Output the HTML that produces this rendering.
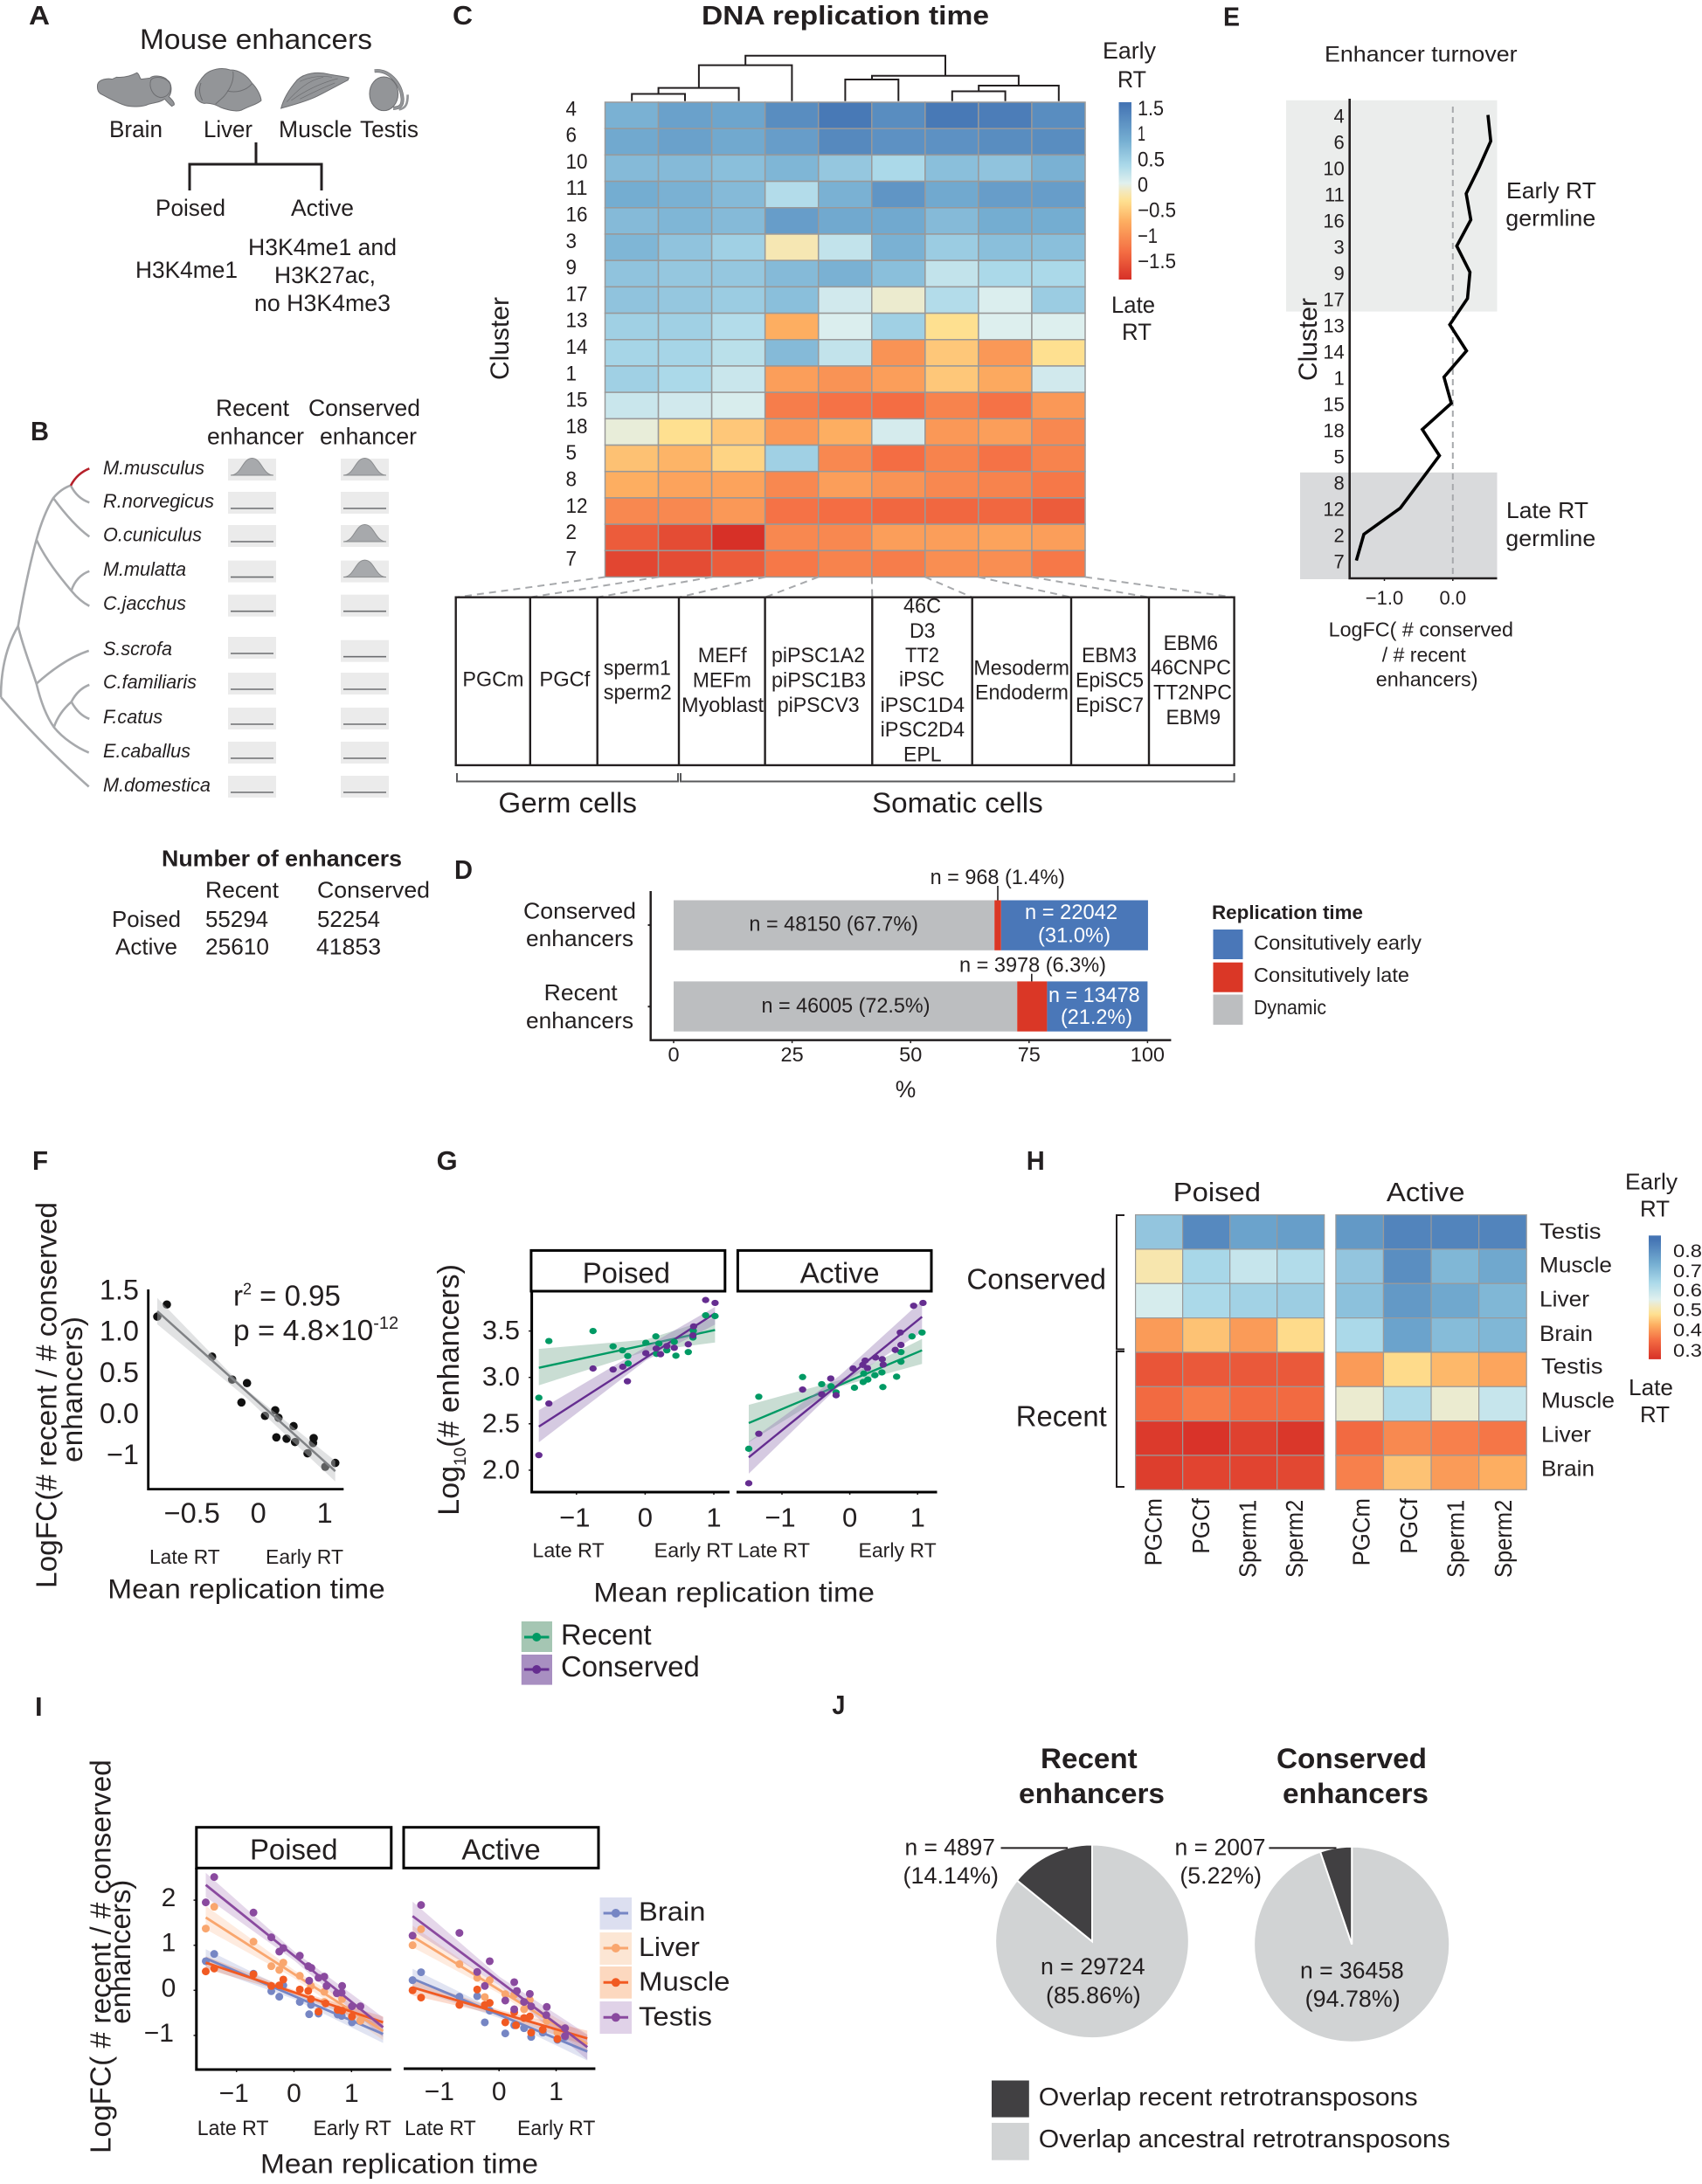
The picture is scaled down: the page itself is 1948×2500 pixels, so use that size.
<!DOCTYPE html>
<html lang="en">
<head>
<meta charset="utf-8">
<title>Enhancer turnover and DNA replication time</title>
<style>
html,body{margin:0;padding:0;background:#fff;width:1948px;height:2500px;overflow:hidden}
svg{display:block;font-family:"Liberation Sans",Arial,sans-serif;fill:#231f20}
.b{font-weight:bold}
.i{font-style:italic}
</style>
</head>
<body>
<svg id="figure" xmlns="http://www.w3.org/2000/svg" width="1948" height="2500" viewBox="0 0 1948 2500">
<defs>
<linearGradient id="cbar-c" x1="0" y1="0" x2="0" y2="1"></linearGradient>
<linearGradient id="cbar-h" x1="0" y1="0" x2="0" y2="1"></linearGradient>
</defs>
<rect width="1948" height="2500" fill="#fff"/>

<!-- PANEL A -->
<g>
<text class="b" x="33" y="28" font-size="31" textLength="24">A</text>
<text x="160" y="56" font-size="32" textLength="266">Mouse enhancers</text>
<g transform="scale(.3333)" fill="#939598" stroke="#6d6e71" stroke-width="3">
<path d="M335 290C340 272 370 268 385 272L400 265C430 268 455 258 470 250C480 255 478 268 485 272L515 268C525 258 560 258 575 275C590 285 592 315 580 332C590 342 600 352 598 360L590 365C578 355 570 345 565 340C550 352 530 352 510 358C490 368 450 368 430 362C405 355 380 340 345 322C335 315 333 305 335 290Z"/>
<path fill="none" d="M518 275C510 300 525 330 550 335C575 335 590 315 585 290C575 265 530 258 518 275Z"/>
<path d="M670 315C672 295 690 270 705 255C725 238 760 230 790 240C825 240 850 262 865 285C880 300 895 325 897 345C885 358 860 362 830 378C810 385 785 378 760 370C745 362 725 352 700 355C680 350 668 335 670 315Z"/>
<path fill="none" d="M800 245C805 275 790 305 770 330C755 345 745 352 740 358M780 312C810 320 845 312 865 288M690 285C682 305 685 325 695 345"/>
<path d="M965 372C972 345 990 310 1020 275C1045 250 1090 245 1130 255C1155 260 1180 262 1198 267L1195 275C1165 290 1130 310 1090 330C1050 350 1000 362 965 372Z"/>
<path fill="none" stroke-width="2" d="M985 350C1020 310 1060 275 1110 265M1000 345C1050 310 1100 285 1160 270M1030 340C1070 320 1110 300 1150 285M1030 280C1060 265 1100 258 1140 265"/>
<ellipse cx="1318" cy="322" rx="49" ry="58"/>
<path fill="none" stroke="#6d6e71" stroke-width="12" d="M1286 244C1335 238 1378 285 1382 340C1382 362 1375 370 1350 372"/>
<path fill="none" stroke="#939598" stroke-width="8" d="M1286 244C1335 238 1378 285 1382 340C1382 362 1375 370 1350 372M1400 325C1400 355 1395 372 1370 376"/>
</g>
<text x="125" y="157" font-size="27" textLength="61">Brain</text>
<text x="233" y="157" font-size="27" textLength="56">Liver</text>
<text x="319" y="157" font-size="27" textLength="84">Muscle</text>
<text x="412" y="157" font-size="27" textLength="67">Testis</text>
<path d="M293 163V188M217 218V188H368V218" fill="none" stroke="#231f20" stroke-width="3"/>
<text x="178" y="247" font-size="27" textLength="80">Poised</text>
<text x="333" y="247" font-size="27" textLength="72">Active</text>
<text x="155" y="318" font-size="27" textLength="117">H3K4me1</text>
<text x="284" y="292" font-size="27" textLength="170">H3K4me1 and</text>
<text x="314" y="324" font-size="27" textLength="116">H3K27ac,</text>
<text x="291" y="356" font-size="27" textLength="156">no H3K4me3</text>
</g>

<!-- PANEL B -->
<g>
<text class="b" x="35" y="504" font-size="31" textLength="21">B</text>
<text x="247" y="476" font-size="26.5" textLength="84">Recent</text>
<text x="353" y="476" font-size="26.5" textLength="128">Conserved</text>
<text x="237" y="508.5" font-size="26.5" textLength="111">enhancer</text>
<text x="366" y="508.5" font-size="26.5" textLength="111">enhancer</text>
<g fill="none" stroke="#a7a9ac" stroke-width="2.6">
<path d="M1 798C1 760 10 735 20.7 716.7C26 685 33 650 41.7 617.8C48 595 55 580 61 570.1C67 563 74 558 81 555.8M81 555.8C86 566 93 572 102.3 575.3M61 570.1C72 585 88 604 102.3 614.3M41.7 617.8C52 640 68 660 81.7 676.3C88 684 95 690 102.3 693.7M81.7 676.3C85 665 93 657 102.3 653.8M20.7 716.7C26 740 35 762 41.7 782.6C47 805 53 820 61.7 832.4C72 845 88 856 101.7 861.5M41.7 782.6C58 768 80 752 101.7 744.9M61.7 832.4C66 820 74 810 81.7 803.4C87 793 94 787 102.3 783.9M81.7 803.4C87 813 94 820 102.3 822.9M1 798C30 832 65 868 101.7 900.5"/>
<path d="M81 555.8C86 546 93 540 102.3 536.3" stroke="#b5202a"/>
</g>
<text class="i" x="118" y="543" font-size="22" textLength="116">M.musculus</text>
<text class="i" x="118" y="581" font-size="22" textLength="127">R.norvegicus</text>
<text class="i" x="118" y="619.5" font-size="22" textLength="113">O.cuniculus</text>
<text class="i" x="118" y="659" font-size="22" textLength="95">M.mulatta</text>
<text class="i" x="118" y="698" font-size="22" textLength="95">C.jacchus</text>
<text class="i" x="118" y="750" font-size="22" textLength="79">S.scrofa</text>
<text class="i" x="118" y="788" font-size="22" textLength="107">C.familiaris</text>
<text class="i" x="118" y="828" font-size="22" textLength="68">F.catus</text>
<text class="i" x="118" y="867" font-size="22" textLength="100">E.caballus</text>
<text class="i" x="118" y="906" font-size="22" textLength="123">M.domestica</text>
<g id="b-tracks"></g>
<text class="b" x="185" y="991.6" font-size="26" textLength="275">Number of enhancers</text>
<text x="235" y="1027.6" font-size="26" textLength="84">Recent</text>
<text x="363" y="1027.6" font-size="26" textLength="129">Conserved</text>
<text x="128" y="1061" font-size="26" textLength="79">Poised</text>
<text x="235" y="1061" font-size="26" textLength="72">55294</text>
<text x="363" y="1061" font-size="26" textLength="72">52254</text>
<text x="132" y="1092.6" font-size="26" textLength="71">Active</text>
<text x="235" y="1092.6" font-size="26" textLength="73">25610</text>
<text x="362" y="1092.6" font-size="26" textLength="74">41853</text>
</g>

<!-- PANEL C -->
<g>
<text class="b" x="518" y="28" font-size="31" textLength="23">C</text>
<text class="b" x="803" y="28" font-size="31" textLength="329">DNA replication time</text>
<path fill="none" stroke="#231f20" stroke-width="2" d="M723.2 115.8V107.5H784V115.8M753.6 107.5V100.6H845.6V115.8M799.9 100.6V74.6H906.4V115.8M853.2 74.6V63.7H1082V86.7M967.4 115.8V91H1028.3V115.8M998 91V86.7H1165.9V98M1089.8 115.8V104.5H1150.6V115.8M1120.2 104.5V98H1211.8V115.8"/>
<g id="c-heatmap"></g>
<text transform="translate(582,435) rotate(-90)" font-size="30" textLength="95">Cluster</text>
<text x="1262" y="67" font-size="27" textLength="61">Early</text>
<text x="1279" y="100" font-size="27" textLength="33">RT</text>
<rect x="1280.5" y="117" width="14.5" height="203" fill="url(#cbar-c)"/>
<g id="c-legend-ticks"></g>
<text x="1272" y="358" font-size="27" textLength="50">Late</text>
<text x="1284" y="389" font-size="27" textLength="34">RT</text>
<g fill="none" stroke="#a7a9ac" stroke-width="2" stroke-dasharray="8 6">
<path d="M692.5 660.5L521.7 683.7M753.6 660.5L606.8 683.7M814.6 660.5L683.7 683.7M875.7 660.5L777 683.7M936.7 660.5L875.6 683.7M997.8 660.5L998.3 683.7M1058.8 660.5L1112.7 683.7M1119.9 660.5L1226 683.7M1180.9 660.5L1315 683.7M1242 660.5L1412.6 683.7"/>
</g>
<path fill="none" stroke="#231f20" stroke-width="2.4" d="M521.7 683.7H1412.6V875.9H521.7ZM606.8 683.7V875.9M683.7 683.7V875.9M777 683.7V875.9M875.6 683.7V875.9M998.3 683.7V875.9M1112.7 683.7V875.9M1226 683.7V875.9M1315 683.7V875.9"/>
<g font-size="24.5">
<text x="529.4" y="785.7" textLength="70">PGCm</text>
<text x="617.4" y="785.7" textLength="58">PGCf</text>
<text x="690.8" y="772.7" textLength="77">sperm1</text>
<text x="690.8" y="800.4" textLength="78">sperm2</text>
<text x="798.7" y="758" textLength="56">MEFf</text>
<text x="792.9" y="786.5" textLength="67">MEFm</text>
<text x="780" y="815" textLength="94">Myoblast</text>
<text x="883" y="758" textLength="107">piPSC1A2</text>
<text x="883" y="786.5" textLength="108">piPSC1B3</text>
<text x="889.7" y="815" textLength="94">piPSCV3</text>
<text x="1034" y="701.5" textLength="43">46C</text>
<text x="1041" y="730" textLength="29.5">D3</text>
<text x="1036" y="758" textLength="39">TT2</text>
<text x="1029" y="785.7" textLength="52">iPSC</text>
<text x="1007.6" y="815" textLength="96.4">iPSC1D4</text>
<text x="1007.6" y="843" textLength="96.4">iPSC2D4</text>
<text x="1034" y="871.5" textLength="43.5">EPL</text>
<text x="1114.4" y="772.7" textLength="109.6">Mesoderm</text>
<text x="1116" y="800.4" textLength="107">Endoderm</text>
<text x="1238" y="758" textLength="63">EBM3</text>
<text x="1231" y="786.5" textLength="78">EpiSC5</text>
<text x="1231" y="815" textLength="78">EpiSC7</text>
<text x="1331.6" y="743.8" textLength="62.4">EBM6</text>
<text x="1317" y="772" textLength="92">46CNPC</text>
<text x="1320" y="800.4" textLength="90">TT2NPC</text>
<text x="1334.5" y="829" textLength="62.5">EBM9</text>
</g>
<path fill="none" stroke="#58595b" stroke-width="2" d="M523 885V894.5H776V885"/>
<path fill="none" stroke="#58595b" stroke-width="2" d="M779 885V894.5H1412.6V885"/>
<text x="570.4" y="930" font-size="32" textLength="158.6">Germ cells</text>
<text x="998" y="930" font-size="32" textLength="195.7">Somatic cells</text>
</g>

<!-- PANEL D -->
<g>
<text class="b" x="520" y="1006" font-size="31" textLength="21">D</text>
<g id="d-bars"></g>
<path fill="none" stroke="#231f20" stroke-width="2.5" d="M744.7 1020V1190.6H1340.4"/>
<path fill="none" stroke="#231f20" stroke-width="2" d="M741.5 1058.9H744.7M741.5 1152.2H744.7"/>
<text x="599" y="1051.5" font-size="26" textLength="129">Conserved</text>
<text x="602" y="1083" font-size="26" textLength="123">enhancers</text>
<text x="622.7" y="1145" font-size="26" textLength="84">Recent</text>
<text x="602" y="1177" font-size="26" textLength="123">enhancers</text>
<g font-size="24">
<text x="1064.6" y="1012" textLength="154.4">n = 968 (1.4%)</text>
<path stroke="#231f20" stroke-width="1.6" d="M1142 1014V1030.5"/>
<text x="857.4" y="1065.3" textLength="193.6">n = 48150 (67.7%)</text>
<text x="1173" y="1052" textLength="106" fill="#fff">n = 22042</text>
<text x="1188" y="1078.4" textLength="83" fill="#fff">(31.0%)</text>
<text x="1098" y="1112.7" textLength="168">n = 3978 (6.3%)</text>
<path stroke="#231f20" stroke-width="1.6" d="M1180.8 1114.7V1123.4"/>
<text x="871.5" y="1159" textLength="193">n = 46005 (72.5%)</text>
<text x="1200" y="1147" textLength="104.6" fill="#fff">n = 13478</text>
<text x="1214" y="1172" textLength="82" fill="#fff">(21.2%)</text>
</g>
<text x="1024.7" y="1256" font-size="27" textLength="23.5">%</text>
<text class="b" x="1387" y="1052" font-size="22" textLength="173">Replication time</text>
<rect x="1388.5" y="1064" width="34" height="34" fill="#4a77b8"/>
<rect x="1388.5" y="1101.7" width="34" height="34" fill="#da3726"/>
<rect x="1388.5" y="1138.5" width="34" height="34.5" fill="#bcbec0"/>
<text x="1435" y="1087" font-size="23" textLength="192">Consitutively early</text>
<text x="1435" y="1124" font-size="23" textLength="178">Consitutively late</text>
<text x="1435" y="1161" font-size="23" textLength="83">Dynamic</text>
</g>

<!-- PANEL E -->
<g>
<text class="b" x="1400" y="29.6" font-size="31" textLength="19">E</text>
<text x="1516" y="70.4" font-size="25" textLength="220.6">Enhancer turnover</text>
<rect x="1472" y="114.8" width="241.5" height="241.8" fill="#ebedec"/>
<rect x="1488" y="540.8" width="225.5" height="122.2" fill="#d9dadc"/>
<g id="e-chart"></g>
<text transform="translate(1507,436) rotate(-90)" font-size="30" textLength="95">Cluster</text>
<text x="1724" y="227" font-size="26" textLength="103">Early RT</text>
<text x="1723.3" y="258.7" font-size="26" textLength="103">germline</text>
<text x="1724" y="593" font-size="26" textLength="94">Late RT</text>
<text x="1723.3" y="625" font-size="26" textLength="103">germline</text>
<text x="1520.6" y="728.6" font-size="23" textLength="211.4">LogFC( # conserved</text>
<text x="1581.8" y="757.6" font-size="23" textLength="96">/ # recent</text>
<text x="1574.8" y="785.7" font-size="23" textLength="116.7">enhancers)</text>
</g>

<!-- PANEL F -->
<g>
<text class="b" x="37" y="1339" font-size="31" textLength="18">F</text>
<g id="f-chart"></g>
<text x="267" y="1494.6" font-size="33">r<tspan font-size="18" dy="-13">2</tspan><tspan dy="13"> = 0.95</tspan></text>
<text x="267" y="1534" font-size="33.5">p = 4.8×10<tspan font-size="20" dy="-13">-12</tspan></text>
<text x="171" y="1790" font-size="23" textLength="80.7">Late RT</text>
<text x="304" y="1790" font-size="23" textLength="89">Early RT</text>
<text x="123.3" y="1829.6" font-size="31.5" textLength="317.4">Mean replication time</text>
<text transform="translate(64.3,1818) rotate(-90)" font-size="33" textLength="442">LogFC(# recent / # conserved</text>
<text transform="translate(94,1674) rotate(-90)" font-size="33" textLength="167">enhancers)</text>
</g>

<!-- PANEL G -->
<g>
<text class="b" x="499.6" y="1338.8" font-size="31" textLength="24">G</text>
<rect x="607.9" y="1431.4" width="221.9" height="46.6" fill="#fff" stroke="#000" stroke-width="3"/>
<rect x="844.4" y="1431.4" width="221.6" height="46.6" fill="#fff" stroke="#000" stroke-width="3"/>
<text x="666.8" y="1468.6" font-size="33" textLength="100.2">Poised</text>
<text x="915.6" y="1468.6" font-size="33" textLength="91">Active</text>
<g id="g-chart"></g>
<path fill="none" stroke="#000" stroke-width="3" d="M608.6 1478V1708H835M843 1708H1072.5"/>
<text x="609.4" y="1782.4" font-size="23" textLength="82.3">Late RT</text>
<text x="748.7" y="1782.4" font-size="23" textLength="90.3">Early RT</text>
<text x="844.4" y="1782.4" font-size="23" textLength="82.6">Late RT</text>
<text x="982.5" y="1782.4" font-size="23" textLength="89.2">Early RT</text>
<text x="679.4" y="1833.5" font-size="31.5" textLength="321.6">Mean replication time</text>
<text transform="translate(525,1734.7) rotate(-90)" font-size="34">Log<tspan font-size="19" dy="8">10</tspan><tspan dy="-8">(# enhancers)</tspan></text>
<rect x="596.8" y="1856" width="35.2" height="35" fill="#a5c6b3"/>
<rect x="596.8" y="1894" width="35.2" height="34.6" fill="#a88fc1"/>
<path d="M600 1874H628.5" stroke="#009a64" stroke-width="3"/>
<circle cx="614.2" cy="1874" r="5" fill="#009a64"/>
<path d="M600 1911H628.5" stroke="#652d90" stroke-width="3"/>
<circle cx="614.2" cy="1911" r="5" fill="#652d90"/>
<text x="642" y="1882.4" font-size="33" textLength="103.6">Recent</text>
<text x="642" y="1919" font-size="33" textLength="158.8">Conserved</text>
</g>

<!-- PANEL H -->
<g>
<text class="b" x="1174.8" y="1339" font-size="31" textLength="21">H</text>
<text x="1342.8" y="1375" font-size="31" textLength="100.2">Poised</text>
<text x="1586.9" y="1375" font-size="31" textLength="89.7">Active</text>
<g id="h-heatmaps"></g>
<text x="1860" y="1361.3" font-size="26" textLength="60">Early</text>
<text x="1877" y="1392.3" font-size="26" textLength="34">RT</text>
<rect x="1887" y="1414.3" width="14" height="141.6" fill="url(#cbar-h)"/>
<g font-size="21.5">
<text x="1915" y="1438.8" textLength="33">0.8</text>
<text x="1915" y="1461.8" textLength="33">0.7</text>
<text x="1915" y="1484" textLength="33">0.6</text>
<text x="1915" y="1506.6" textLength="33">0.5</text>
<text x="1915" y="1529.7" textLength="33">0.4</text>
<text x="1915" y="1553" textLength="33">0.3</text>
</g>
<text x="1864" y="1596.8" font-size="26" textLength="51">Late</text>
<text x="1877" y="1628" font-size="26" textLength="34">RT</text>
<text x="1106.4" y="1475.6" font-size="33" textLength="159.6">Conserved</text>
<text x="1162.8" y="1632.3" font-size="33" textLength="103.9">Recent</text>
<path fill="none" stroke="#231f20" stroke-width="2" d="M1287 1391H1278V1544.5H1287"/>
<path fill="none" stroke="#231f20" stroke-width="2" d="M1287 1547H1278V1702H1287"/>
</g>

<!-- PANEL I -->
<g>
<text class="b" x="40" y="1964" font-size="31">I</text>
<rect x="224.8" y="2091.7" width="223" height="46.6" fill="#fff" stroke="#000" stroke-width="3"/>
<rect x="462" y="2091.7" width="223" height="46.6" fill="#fff" stroke="#000" stroke-width="3"/>
<text x="286" y="2128.3" font-size="33" textLength="100.5">Poised</text>
<text x="528.4" y="2128.3" font-size="33" textLength="90.3">Active</text>
<g id="i-chart"></g>
<path fill="none" stroke="#000" stroke-width="3" d="M224.8 2138V2369H447.8M462 2368H681.4"/>
<text x="225.8" y="2444" font-size="24" textLength="81.6">Late RT</text>
<text x="358.5" y="2444" font-size="24" textLength="89.3">Early RT</text>
<text x="463" y="2444" font-size="24" textLength="81.7">Late RT</text>
<text x="592" y="2444" font-size="24" textLength="89.4">Early RT</text>
<text x="298" y="2487.7" font-size="31.5" textLength="318">Mean replication time</text>
<text transform="translate(126.3,2465) rotate(-90)" font-size="33" textLength="450.7">LogFC( # recent / # conserved</text>
<text transform="translate(149,2316.7) rotate(-90)" font-size="33" textLength="165">enhancers)</text>
<rect x="686.5" y="2172" width="36.5" height="36.7" fill="#dcdff0"/>
<rect x="686.5" y="2212" width="36.5" height="37" fill="#fce6d4"/>
<rect x="686.5" y="2251" width="36.5" height="36.7" fill="#fcd8bf"/>
<rect x="686.5" y="2291" width="36.5" height="37" fill="#e0d2e8"/>
<path d="M690.6 2190H719" stroke="#7686c4" stroke-width="3"/>
<circle cx="704.8" cy="2190" r="5" fill="#7686c4"/>
<path d="M690.6 2230H719" stroke="#f9a66e" stroke-width="3"/>
<circle cx="704.8" cy="2230" r="5" fill="#f9a66e"/>
<path d="M690.6 2269.3H719" stroke="#f15a22" stroke-width="3"/>
<circle cx="704.8" cy="2269.3" r="5" fill="#f15a22"/>
<path d="M690.6 2309.3H719" stroke="#8a4a9f" stroke-width="3"/>
<circle cx="704.8" cy="2309.3" r="5" fill="#8a4a9f"/>
<text x="731" y="2198.3" font-size="31" textLength="76.4">Brain</text>
<text x="731" y="2239" font-size="31" textLength="69.8">Liver</text>
<text x="731" y="2278.3" font-size="31" textLength="104.5">Muscle</text>
<text x="731" y="2318.3" font-size="31" textLength="84">Testis</text>
</g>

<!-- PANEL J -->
<g>
<text class="b" x="952.4" y="1962" font-size="31" textLength="15">J</text>
<text class="b" x="1191" y="2023.8" font-size="32" textLength="110.7">Recent</text>
<text class="b" x="1166" y="2063.8" font-size="32" textLength="167">enhancers</text>
<text class="b" x="1461" y="2023.8" font-size="32" textLength="172">Conserved</text>
<text class="b" x="1468" y="2063.8" font-size="32" textLength="167">enhancers</text>
<g id="j-pies"></g>
<path d="M1145.5 2115.4H1222" stroke="#231f20" stroke-width="2"/>
<path d="M1452.4 2115.4H1529.5" stroke="#231f20" stroke-width="2"/>
<g font-size="26.5">
<text x="1035.5" y="2123.4" textLength="103.5">n = 4897</text>
<text x="1033.5" y="2156" textLength="109.5">(14.14%)</text>
<text x="1191" y="2260" textLength="119.6">n = 29724</text>
<text x="1197" y="2292.8" textLength="108.7">(85.86%)</text>
<text x="1344.5" y="2123.4" textLength="104">n = 2007</text>
<text x="1350.4" y="2156" textLength="93.6">(5.22%)</text>
<text x="1488" y="2264.4" textLength="118.7">n = 36458</text>
<text x="1493.7" y="2297" textLength="109">(94.78%)</text>
</g>
<rect x="1135" y="2381.5" width="42.8" height="42.1" fill="#414042"/>
<rect x="1135" y="2430" width="42.8" height="42.7" fill="#d1d3d4"/>
<text x="1188.8" y="2409.8" font-size="29" textLength="433.8">Overlap recent retrotransposons</text>
<text x="1188.8" y="2458" font-size="29" textLength="471.1">Overlap ancestral retrotransposons</text>
</g>
</svg>

<script>
/* ---------- PANEL B data ---------- */
const bSpecies = ['M.musculus','R.norvegicus','O.cuniculus','M.mulatta','C.jacchus','S.scrofa','C.familiaris','F.catus','E.caballus','M.domestica'];
const bRecentPeak = [1,0,0,0,0,0,0,0,0,0];
const bConservedPeak = [1,0,1,1,0,0,0,0,0,0];

/* ---------- PANEL C data ---------- */
const cClusters = ['4','6','10','11','16','3','9','17','13','14','1','15','18','5','8','12','2','7'];
const cColumns = ['c1','c2','c3','c4','c5','c6','c7','c8','c9'];
const cValues = [
[0.85,1.05,1.0,1.3,1.55,1.3,1.55,1.5,1.3],
[0.95,1.05,0.95,1.1,1.35,1.25,1.25,1.3,1.3],
[0.75,0.75,0.7,0.8,0.6,0.4,0.7,0.65,0.85],
[0.9,0.85,0.75,0.35,0.85,1.2,0.95,1.1,1.1],
[0.75,0.8,0.75,1.1,0.95,0.95,0.75,0.9,0.9],
[0.8,0.65,0.5,-0.15,0.25,0.85,0.55,0.7,0.7],
[0.65,0.6,0.6,0.75,0.85,0.7,0.25,0.4,0.4],
[0.65,0.6,0.55,0.7,0.15,-0.05,0.35,0.08,0.55],
[0.5,0.5,0.35,-0.7,0.08,0.5,-0.3,0.07,0.07],
[0.45,0.45,0.3,0.75,0.25,-0.95,-0.5,-0.9,-0.3],
[0.5,0.4,0.2,-0.85,-0.95,-0.85,-0.5,-0.75,0.15],
[0.2,0.15,0.1,-1.15,-1.25,-1.3,-1.1,-1.25,-0.9],
[-0.02,-0.3,-0.5,-0.9,-0.7,0.12,-0.9,-0.85,-1.05],
[-0.55,-0.65,-0.4,0.5,-1.05,-1.3,-1.1,-1.25,-1.1],
[-0.7,-0.8,-0.8,-1.05,-0.85,-0.95,-1.05,-1.1,-1.2],
[-1.05,-1.05,-0.9,-1.25,-1.3,-1.35,-1.35,-1.35,-1.45],
[-1.45,-1.6,-1.85,-1.05,-1.05,-0.85,-0.85,-0.8,-0.85],
[-1.65,-1.6,-1.45,-1.2,-1.1,-1.15,-1.0,-1.0,-1.2]
];
const cLegendValues = [1.5,1,0.5,0,-0.5,-1,-1.5];
const cLegendLabels = ['1.5','1','0.5','0','−0.5','−1','−1.5'];

/* ---------- PANEL D data ---------- */
const dCategories = ['Conserved enhancers','Recent enhancers'];
const dDynamic = [67.7,72.5];
const dLate = [1.4,6.3];
const dEarly = [31.0,21.2];
const dTicks = [0,25,50,75,100];

/* ---------- PANEL E data ---------- */
const eClusters = ['4','6','10','11','16','3','9','17','13','14','1','15','18','5','8','12','2','7'];
const eValues = [0.513,0.554,0.384,0.196,0.263,0.058,0.25,0.214,-0.045,0.2,-0.129,-0.022,-0.446,-0.196,-0.482,-0.768,-1.3,-1.41];
const eTicks = [-1,0];
const eTickLabels = ['−1.0','0.0'];

/* ---------- PANEL F data ---------- */
const fX = [-1.378,-1.522,-0.697,-0.395,-0.171,-0.255,0.1,0.254,0.303,0.53,0.271,0.425,0.553,0.833,0.824,0.741,1.008,1.158];
const fY = [1.32,1.173,0.686,0.408,0.365,0.13,-0.033,0.035,-0.056,-0.158,-0.294,-0.31,-0.351,-0.303,-0.363,-0.488,-0.651,-0.605];
const fBandX = [-1.522,-0.2,1.158];
const fBandUpper = [1.4,0.3,-0.58];
const fBandLower = [1.08,0.2,-0.83];
const fLineX = [-1.522,1.158];
const fLineY = [1.238,-0.705];
const fXTicks = [-1,0,1];
const fXLabels = ['−0.5','0','1'];
const fYTicks = [1.5,1,0.5,0,-0.5];
const fYLabels = ['1.5','1.0','0.5','0.0','−1'];

/* ---------- PANEL G data ---------- */
const gXTicks = [-1,0,1];
const gXLabels = ['−1','0','1'];
const gYTicks = [3.5,3,2.5,2];
const gYLabels = ['3.5','3.0','2.5','2.0'];
const gPoisedRecentX = [-1.548,-1.402,-0.759,-0.467,-0.331,-0.253,-0.248,0.01,0.156,0.2,0.166,0.316,0.424,0.448,0.628,0.701,0.696,0.881,1.018];
const gPoisedRecentY = [2.781,3.392,3.5,3.334,3.292,3.231,3.15,3.373,3.442,3.365,3.254,3.292,3.384,3.234,3.273,3.503,3.43,3.669,3.661];
const gPoisedConservedX = [-1.548,-1.402,-0.759,-0.467,-0.326,-0.258,0.01,0.161,0.224,0.316,0.424,0.628,0.706,0.881,1.018,0.696];
const gPoisedConservedY = [2.162,2.719,3.096,3.085,3.115,2.958,3.261,3.311,3.25,3.338,3.319,3.357,3.55,3.834,3.803,3.453];
const gPoisedRecentLine = [3.104,3.511];
const gPoisedConservedLine = [2.47,3.692];
const gPoisedLineX = [-1.548,1.018];
const gPoisedBandX = [-1.548,0.01,1.018];
const gPoisedRecentUpper = [3.307,3.407,3.646];
const gPoisedRecentLower = [2.915,3.28,3.377];
const gPoisedConservedUpper = [2.646,3.33,3.76];
const gPoisedConservedLower = [2.3,3.184,3.57];
const gActiveRecentX = [-1.49,-1.342,-0.696,-0.414,-0.276,-0.202,0.069,0.197,0.207,0.266,0.37,0.474,0.488,0.691,0.755,0.755,0.918,1.066];
const gActiveRecentY = [2.231,2.792,3.004,2.927,2.904,2.839,2.889,2.95,3.042,2.977,3.023,3.054,2.896,3.008,3.273,3.169,3.442,3.484];
const gActiveConservedX = [-1.49,-1.342,-0.696,-0.414,-0.281,-0.202,0.049,0.192,0.227,0.261,0.38,0.479,0.493,0.671,0.755,0.745,0.942,1.08];
const gActiveConservedY = [1.859,2.393,2.869,2.819,2.988,2.808,3.096,3.135,3.181,3.1,3.215,3.196,3.138,3.296,3.35,3.484,3.772,3.803];
const gActiveRecentLine = [2.508,3.292];
const gActiveConservedLine = [2.139,3.653];
const gActiveLineX = [-1.49,1.066];
const gActiveBandX = [-1.49,-0.15,1.066];
const gActiveRecentUpper = [2.704,2.97,3.415];
const gActiveRecentLower = [2.3,2.9,3.146];
const gActiveConservedUpper = [2.308,3.02,3.83];
const gActiveConservedLower = [1.962,2.915,3.49];

/* ---------- PANEL H data ---------- */
const hTissues = ['Testis','Muscle','Liver','Brain','Testis','Muscle','Liver','Brain'];
const hSamples = ['PGCm','PGCf','Sperm1','Sperm2'];
const hPoised = [
[0.69,0.81,0.76,0.77],[0.525,0.655,0.61,0.64],[0.585,0.65,0.665,0.675],[0.43,0.47,0.43,0.495],
[0.345,0.35,0.35,0.35],[0.375,0.395,0.375,0.375],[0.305,0.295,0.315,0.3],[0.31,0.32,0.32,0.325]
];
const hActive = [
[0.78,0.82,0.82,0.82],[0.69,0.8,0.72,0.75],[0.7,0.78,0.75,0.72],[0.65,0.76,0.71,0.72],
[0.43,0.495,0.46,0.44],[0.55,0.645,0.55,0.61],[0.375,0.41,0.4,0.39],[0.4,0.47,0.43,0.45]
];

/* ---------- PANEL I data ---------- */
const iXTicks = [-1,0,1];
const iXLabels = ['−1','0','1'];
const iYTicks = [2,1,0,-1];
const iYLabels = ['2','1','0','−1'];
const iPoisedBrainX = [-1.535,-1.388,-0.705,-0.395,-0.186,-0.256,0.101,0.264,0.295,0.426,0.76,0.829,1.008,1.155];
const iPoisedBrainY = [0.646,0.807,0.368,-0.019,0.11,-0.142,-0.258,-0.53,-0.323,-0.517,-0.536,-0.568,-0.711,-0.678];
const iPoisedLiverX = [-1.535,-1.388,-0.705,-0.395,-0.186,-0.256,0.101,0.295,0.527,0.527,0.837,0.76,1.008,1.155];
const iPoisedLiverY = [1.37,1.854,1.079,0.536,0.614,0.452,0.323,0.097,-0.032,-0.258,-0.194,-0.42,-0.581,-0.678];
const iPoisedMuscleX = [-1.535,-1.388,-0.705,-0.395,-0.186,-0.256,0.101,0.248,0.295,0.426,0.55,0.76,0.837,1.008];
const iPoisedMuscleY = [0.42,0.484,0.355,0.097,0.239,0.11,0.019,-0.013,-0.194,-0.472,-0.291,-0.433,-0.452,-0.581];
const iPoisedTestisX = [-1.535,-1.388,-0.705,-0.395,-0.186,-0.256,0.101,0.248,0.302,0.264,0.426,0.527,0.566,0.837,0.744,0.829,1.008,1.155];
const iPoisedTestisY = [1.951,2.513,1.725,1.176,0.937,0.859,0.769,0.536,0.497,0.213,0.278,0.304,0.097,0.097,-0.065,-0.052,-0.355,-0.355];
const iPoisedLineX = [-1.535,1.55];
const iPoisedBrainLine = [0.71,-0.969];
const iPoisedLiverLine = [1.615,-0.904];
const iPoisedMuscleLine = [0.614,-0.71];
const iPoisedTestisLine = [2.339,-0.82];
const iPoisedBrainBand = [0.2,0.07,0.2];
const iPoisedLiverBand = [0.26,0.09,0.2];
const iPoisedMuscleBand = [0.14,0.05,0.13];
const iPoisedTestisBand = [0.27,0.1,0.22];
const iActiveBrainX = [-1.516,-1.367,-0.695,-0.383,-0.164,-0.25,0.109,0.266,0.438,0.563,0.766,1.023,1.156];
const iActiveBrainY = [0.226,0.401,-0.142,-0.129,-0.452,-0.711,-0.956,-0.775,-0.84,-1.034,-0.937,-1.098,-1.034];
const iActiveLiverX = [-1.516,-1.367,-0.695,-0.164,-0.383,-0.25,0.109,0.266,0.539,0.438,0.836,1.023];
const iActiveLiverY = [1.001,1.357,0.581,0.226,0.278,-0.149,-0.084,-0.097,-0.213,-0.42,-0.678,-0.937];
const iActiveMuscleX = [-1.516,-1.367,-0.695,-0.383,-0.164,-0.25,0.266,0.109,0.438,0.297,0.539,0.563,0.766,1.023];
const iActiveMuscleY = [0,-0.161,-0.323,0.019,-0.278,-0.323,-0.484,-0.711,-0.614,-0.775,-0.581,-0.937,-0.872,-1.079];
const iActiveTestisX = [-1.516,-1.367,-0.695,-0.164,-0.383,-0.25,0.266,0.313,0.109,0.539,0.438,0.266,0.563,0.836,0.828,1.156,1.156];
const iActiveTestisY = [1.214,1.893,1.273,0.646,0.407,0.097,0.181,-0.013,-0.226,-0.078,-0.258,-0.42,-0.355,-0.368,-0.549,-0.84,-1.014];
const iActiveLineX = [-1.516,1.547];
const iActiveBrainLine = [0.258,-1.357];
const iActiveLiverLine = [1.195,-1.195];
const iActiveMuscleLine = [0.065,-1.066];
const iActiveTestisLine = [1.647,-1.26];
const iActiveBrainBand = [0.22,0.07,0.2];
const iActiveLiverBand = [0.24,0.08,0.2];
const iActiveMuscleBand = [0.18,0.06,0.17];
const iActiveTestisBand = [0.32,0.1,0.28];

/* ---------- PANEL J data ---------- */
const jRecent = [4897,29724];
const jConserved = [2007,36458];

/* ---------- shared helpers ---------- */
const NS = 'http://www.w3.org/2000/svg';
function mk(tag, attrs, parent) {
  const n = document.createElementNS(NS, tag);
  for (const k in attrs) n.setAttribute(k, attrs[k]);
  parent.appendChild(n);
  return n;
}
function hexRgb(h){return [parseInt(h.slice(1,3),16),parseInt(h.slice(3,5),16),parseInt(h.slice(5,7),16)];}
function scaleColor(stops, v){
  if (v <= stops[0][0]) return stops[0][1];
  for (let i = 1; i < stops.length; i++) {
    if (v <= stops[i][0]) {
      const t = (v - stops[i-1][0]) / (stops[i][0] - stops[i-1][0]);
      const a = hexRgb(stops[i-1][1]), b = hexRgb(stops[i][1]);
      return 'rgb(' + a.map((c,j)=>Math.round(c+(b[j]-c)*t)).join(',') + ')';
    }
  }
  return stops[stops.length-1][1];
}
function fillGradient(id, stops, top, bottom){
  const g = document.getElementById(id);
  stops.forEach(s=>{
    mk('stop',{offset:((top-s[0])/(top-bottom)).toFixed(4),'stop-color':s[1]},g);
  });
  const kids=[...g.children].reverse();
  kids.forEach(k=>g.appendChild(k));
}
function bandD(xs, up, lo, fx, fy){
  let d = 'M' + xs.map((x,i)=>fx(x).toFixed(1)+' '+fy(up[i]).toFixed(1)).join('L');
  for (let i = xs.length-1; i >= 0; i--) d += 'L' + fx(xs[i]).toFixed(1)+' '+fy(lo[i]).toFixed(1);
  return d + 'Z';
}

/* ---------- PANEL B ---------- */
(function(){
  const root = document.getElementById('b-tracks');
  const rowTopsLeft = [525,563,601,641.6,680.7,729,770,810,849,888];
  const rowTopsRight = [525,563,601,641.6,680.7,732.7,770,810,849,888];
  function track(x, top, peak, sp, col){
    const box = mk('rect',{x:x,y:top,width:55,height:25,fill:'#ebebeb'},root);
    
    
    const cx = x+27.5, b = top+19;
    if (peak) {
      const p = mk('path',{d:`M${cx-24.5} ${b}C${cx-12} ${b} ${cx-11} ${b-19.5} ${cx} ${b-19.5}C${cx+11} ${b-19.5} ${cx+12} ${b} ${cx+24.5} ${b}Z`,fill:'#a7a9ac',stroke:'#8a8c8e','stroke-width':1},root);
      
      
    } else {
      const l = mk('path',{d:`M${cx-24.5} ${b}H${cx+24.5}`,stroke:'#6d6e71','stroke-width':1.6,fill:'none'},root);
      
      
    }
  }
  bSpecies.forEach((s,i)=>{
    track(261,rowTopsLeft[i],bRecentPeak[i],s,'recent');
    track(390,rowTopsRight[i],bConservedPeak[i],s,'conserved');
  });
})();

/* ---------- PANEL C ---------- */
const cStops = [[-1.85,'#d73027'],[-1.3,'#f46d43'],[-0.7,'#fdae61'],[-0.3,'#fee090'],[-0.12,'#f4e8ba'],[0.05,'#e0f0ee'],[0.4,'#abd9e9'],[0.9,'#74add1'],[1.6,'#4575b4']];
(function(){
  const root = document.getElementById('c-heatmap');
  const x0=692.5, y0=117, cw=549.5/cColumns.length, ch=543.5/cClusters.length;
  const fx = j => x0 + j*cw;
  const fy = i => y0 + i*ch;
  cClusters.forEach((name,i)=>{
    cColumns.forEach((col,j)=>{
      const c = mk('rect',{x:fx(j),y:fy(i),width:cw,height:ch,fill:scaleColor(cStops,cValues[i][j]),stroke:'#999','stroke-width':1.5},root);
      
      
    });
    const t = mk('text',{x:647.5,y:132.3+30.3*i,'font-size':24,textLength:name.length*12.5,lengthAdjust:'spacingAndGlyphs'},root);
    t.textContent = name;
    
    
  });
  fillGradient('cbar-c', cStops, 1.64, -1.84);
  const lg = document.getElementById('c-legend-ticks');
  const ly = v => 219.5 - v*58.33;
  const labelWidths = [30,9,31,12,44,23,44];
  cLegendValues.forEach((v,i)=>{
    const t = mk('text',{x:1302,y:ly(v),'font-size':24,textLength:labelWidths[i],lengthAdjust:'spacingAndGlyphs'},lg);
    t.textContent = cLegendLabels[i];
    
    
  });
})();

/* ---------- PANEL D ---------- */
(function(){
  const root = document.getElementById('d-bars');
  const fx = v => 771 + v*5.424;
  const tops = [1030.5,1123.4];
  const h = 57.3;
  const colors = ['#bcbec0','#da3726','#4a77b8'];
  dCategories.forEach((c,i)=>{
    const parts = [dDynamic[i],dLate[i],dEarly[i]];
    let acc = 0;
    parts.forEach((p,k)=>{
      const r = mk('rect',{x:fx(acc),y:tops[i],width:fx(acc+p)-fx(acc),height:h,fill:colors[k]},root);
      
      
      acc += p;
    });
  });
  dTicks.forEach(t=>{
    const m = mk('path',{d:`M${fx(t)} 1190.6v3.5`,stroke:'#231f20','stroke-width':1.5},root);
    
    
    const l = mk('text',{x:fx(t),y:1214.8,'font-size':23.5,'text-anchor':'middle'},root);
    l.textContent = t;
    
    
  });
})();

/* ---------- PANEL E ---------- */
(function(){
  const root = document.getElementById('e-chart');
  const fx = v => 1662.8 + v*78.3;
  const fy = i => 131.6 + i*30;
  const zero = mk('path',{d:`M${fx(0)} 122V662`,stroke:'#a7a9ac','stroke-width':2,'stroke-dasharray':'7 5',fill:'none'},root);
  
  
  const ax = mk('path',{d:'M1544.7 113V662H1713.5',stroke:'#231f20','stroke-width':2.6,fill:'none'},root);
  
  
  eClusters.forEach((c,i)=>{
    const t = mk('text',{x:1538.8,y:fy(i)+8.7,'font-size':22,'text-anchor':'end'},root);
    t.textContent = c;
    
    
  });
  const line = mk('path',{d:'M'+eValues.map((v,i)=>fx(v).toFixed(1)+' '+fy(i).toFixed(1)).join('L'),fill:'none',stroke:'#000','stroke-width':3.6,'stroke-linejoin':'miter'},root);
  
  
  eTicks.forEach((v,i)=>{
    const m = mk('path',{d:`M${fx(v)} 662v3`,stroke:'#231f20','stroke-width':1.5},root);
    
    
    const l = mk('text',{x:fx(v),y:692,'font-size':22,'text-anchor':'middle'},root);
    l.textContent = eTickLabels[i];
    
    
  });
})();

/* ---------- PANEL F ---------- */
(function(){
  const root = document.getElementById('f-chart');
  const fx = v => 295.7 + 76*v;
  const fy = v => 1617.6 - 94.2*v;
  fX.forEach((x,i)=>{
    const c = mk('circle',{cx:fx(x),cy:fy(fY[i]),r:4.8,fill:'#111'},root);
    
    
  });
  const band = mk('path',{d:bandD(fBandX,fBandUpper,fBandLower,fx,fy),fill:'#bcbec0','fill-opacity':.45},root);
  
  
  const line = mk('path',{d:`M${fx(fLineX[0])} ${fy(fLineY[0])}L${fx(fLineX[1])} ${fy(fLineY[1])}`,stroke:'#808285','stroke-width':2.5,fill:'none'},root);
  
  
  const ax = mk('path',{d:'M169.7 1476V1704.6H393.3',stroke:'#000','stroke-width':2.8,fill:'none'},root);
  
  
  fXTicks.forEach((v,i)=>{
    const t = mk('text',{x:fx(v),y:1742.9,'font-size':32.5,'text-anchor':'middle'},root);
    t.textContent = fXLabels[i];
    
    
  });
  fYTicks.forEach((v,i)=>{
    const t = mk('text',{x:159,y:fy(v)+11.3,'font-size':32.5,'text-anchor':'end'},root);
    t.textContent = fYLabels[i];
    
    
  });
})();

/* ---------- PANEL G ---------- */
(function(){
  const root = document.getElementById('g-chart');
  const fy = v => 1576.7 - (v-3)*106.2;
  const fxP = v => 738.4 + v*78.6;
  const fxA = v => 972.6 + v*77.6;
  const green = '#009a64', purple = '#652d90', greenB = '#7fae96', purpleB = '#9a80b8';
  function series(fx, bx, up, lo, lx, ly, px, py, col, bcol){
    const b = mk('path',{d:bandD(bx,up,lo,fx,fy),fill:bcol,'fill-opacity':.42},root);
    
    
    const l = mk('path',{d:`M${fx(lx[0])} ${fy(ly[0])}L${fx(lx[1])} ${fy(ly[1])}`,stroke:col,'stroke-width':2.4,fill:'none'},root);
    
    
    return ()=>px.forEach((x,i)=>{
      const c = mk('ellipse',{cx:fx(x),cy:fy(py[i]),rx:4.2,ry:3.6,fill:col},root);
      
      
    });
  }
  const p1 = series(fxP,gPoisedBandX,gPoisedRecentUpper,gPoisedRecentLower,gPoisedLineX,gPoisedRecentLine,gPoisedRecentX,gPoisedRecentY,green,greenB);
  const p2 = series(fxP,gPoisedBandX,gPoisedConservedUpper,gPoisedConservedLower,gPoisedLineX,gPoisedConservedLine,gPoisedConservedX,gPoisedConservedY,purple,purpleB);
  const a1 = series(fxA,gActiveBandX,gActiveRecentUpper,gActiveRecentLower,gActiveLineX,gActiveRecentLine,gActiveRecentX,gActiveRecentY,green,greenB);
  const a2 = series(fxA,gActiveBandX,gActiveConservedUpper,gActiveConservedLower,gActiveLineX,gActiveConservedLine,gActiveConservedX,gActiveConservedY,purple,purpleB);
  p1();p2();a1();a2();
  gXTicks.forEach((v,i)=>{
    [fxP,fxA].forEach(fx=>{
      const m = mk('path',{d:`M${fx(v)} 1708v3`,stroke:'#231f20','stroke-width':1.5},root);
      
      
      const t = mk('text',{x:fx(v)-(v<0?2:0),y:1747.7,'font-size':31,'text-anchor':'middle'},root);
      t.textContent = gXLabels[i];
      
      
    });
  });
  gYTicks.forEach((v,i)=>{
    const m = mk('path',{d:`M605 ${fy(v)}h3.6`,stroke:'#231f20','stroke-width':1.5},root);
    
    
    const t = mk('text',{x:595,y:fy(v)+9.5,'font-size':31,'text-anchor':'end'},root);
    t.textContent = gYLabels[i];
    
    
  });
})();

/* ---------- PANEL H ---------- */
const hStops = [[0.29,'#d73027'],[0.38,'#f46d43'],[0.45,'#fdae61'],[0.5,'#fee090'],[0.535,'#f4e8ba'],[0.57,'#e0f0ee'],[0.65,'#abd9e9'],[0.74,'#74add1'],[0.85,'#4575b4']];
(function(){
  const root = document.getElementById('h-heatmaps');
  const y0 = 1390.6, ch = 314.7/8;
  const fy = i => y0 + i*ch;
  function grid(x0, w, vals, panel){
    const cw = w/4;
    vals.forEach((row,i)=>row.forEach((v,j)=>{
      const c = mk('rect',{x:x0+j*cw,y:fy(i),width:cw,height:ch,fill:scaleColor(hStops,v),stroke:'#9a9a9a','stroke-width':1.2},root);
      
      
    }));
  }
  grid(1299.6,216.1,hPoised,'poised');
  grid(1528.9,218.3,hActive,'active');
  const rowBase = [1417.8,1456.7,1495.6,1534.8,1572.7,1611.6,1650.5,1689.5];
  const rowW = [70.5,83,57,61,70.5,84,57,61];
  hTissues.forEach((n,i)=>{
    const t = mk('text',{x:i<4?1762:1764,y:rowBase[i],'font-size':25,textLength:rowW[i]},root);
    t.textContent = n;
    
    
  });
  const colBaseP = [1329.7,1383.8,1437.5,1491];
  const colBaseA = [1567.7,1621.9,1675.5,1730];
  const colLen = [77.4,63.6,89.3,89.3];
  const colStart = [1792.4,1778.6,1806,1806];
  hSamples.forEach((n,j)=>{
    [colBaseP,colBaseA].forEach(b=>{
      const t = mk('text',{transform:`translate(${b[j]},${colStart[j]}) rotate(-90)`,'font-size':28,textLength:colLen[j]},root);
      t.textContent = n;
      
      
    });
  });
  fillGradient('cbar-h', hStops, 0.87, 0.29);
})();

/* ---------- PANEL I ---------- */
(function(){
  const root = document.getElementById('i-chart');
  const fy = v => 2278.3 - 51.6*v;
  const fxP = v => 336.5 + v*65.8;
  const fxA = v => 571.2 + v*65.3;
  const cols = {brain:'#7686c4',liver:'#f9a66e',muscle:'#f15a22',testis:'#8a4a9f'};
  function series(fx, lx, line, halves, px, py, col){
    const midX = (lx[0]+lx[1])*0.35;
    const bx = [lx[0],midX,lx[1]];
    const mid = line[0]+(line[1]-line[0])*(midX-lx[0])/(lx[1]-lx[0]);
    const center = [line[0],mid,line[1]];
    const up = center.map((c,i)=>c+halves[i]);
    const lo = center.map((c,i)=>c-halves[i]);
    const b = mk('path',{d:bandD(bx,up,lo,fx,fy),fill:col,'fill-opacity':.22},root);
    
    
    return ()=>{
      const l = mk('path',{d:`M${fx(lx[0])} ${fy(line[0])}L${fx(lx[1])} ${fy(line[1])}`,stroke:col,'stroke-width':2.8,fill:'none'},root);
      
      
      px.forEach((x,i)=>{
        const c = mk('circle',{cx:fx(x),cy:fy(py[i]),r:4.5,fill:col},root);
        
        
      });
    };
  }
  const draws = [
    series(fxP,iPoisedLineX,iPoisedBrainLine,iPoisedBrainBand,iPoisedBrainX,iPoisedBrainY,cols.brain),
    series(fxP,iPoisedLineX,iPoisedLiverLine,iPoisedLiverBand,iPoisedLiverX,iPoisedLiverY,cols.liver),
    series(fxP,iPoisedLineX,iPoisedMuscleLine,iPoisedMuscleBand,iPoisedMuscleX,iPoisedMuscleY,cols.muscle),
    series(fxP,iPoisedLineX,iPoisedTestisLine,iPoisedTestisBand,iPoisedTestisX,iPoisedTestisY,cols.testis),
    series(fxA,iActiveLineX,iActiveBrainLine,iActiveBrainBand,iActiveBrainX,iActiveBrainY,cols.brain),
    series(fxA,iActiveLineX,iActiveLiverLine,iActiveLiverBand,iActiveLiverX,iActiveLiverY,cols.liver),
    series(fxA,iActiveLineX,iActiveMuscleLine,iActiveMuscleBand,iActiveMuscleX,iActiveMuscleY,cols.muscle),
    series(fxA,iActiveLineX,iActiveTestisLine,iActiveTestisBand,iActiveTestisX,iActiveTestisY,cols.testis)
  ];
  draws.forEach(d=>d());
  iXTicks.forEach((v,i)=>{
    [[fxP,2406,2369],[fxA,2404,2368]].forEach(p=>{
      const m = mk('path',{d:`M${p[0](v)} ${p[2]}v3`,stroke:'#231f20','stroke-width':1.5},root);
      
      
      const t = mk('text',{x:p[0](v)-(v<0?3:0),y:p[1],'font-size':30,'text-anchor':'middle'},root);
      t.textContent = iXLabels[i];
      
      
    });
  });
  iYTicks.forEach((v,i)=>{
    const m = mk('path',{d:`M221.5 ${fy(v)}h3.3`,stroke:'#231f20','stroke-width':1.5},root);
    
    
    const t = mk('text',{x:v<0?199:201.3,y:fy(v)+7,'font-size':30,'text-anchor':'end'},root);
    t.textContent = iYLabels[i];
    
    
  });
})();

/* ---------- PANEL J ---------- */
(function(){
  const root = document.getElementById('j-pies');
  function pie(vals, cx, cy, r){
    const f = vals[0]/(vals[0]+vals[1]);
    const a = 2*Math.PI*f;
    const px = cx - r*Math.sin(a), py = cy - r*Math.cos(a);
    const light = mk('path',{d:`M${cx} ${cy}L${px} ${py}A${r} ${r} 0 ${f<.5?1:0} 0 ${cx} ${cy-r}Z`,fill:'#d1d3d4',stroke:'#fff','stroke-width':2},root);
    
    
    const dark = mk('path',{d:`M${cx} ${cy}L${cx} ${cy-r}A${r} ${r} 0 ${f>.5?1:0} 0 ${px} ${py}Z`,fill:'#414042',stroke:'#fff','stroke-width':2},root);
    
    
  }
  pie(jRecent,1250,2222.3,110.8);
  pie(jConserved,1547.2,2225.7,112);
})();

/* stretch/condense every fitted label to its measured width */
document.querySelectorAll('text[textLength]').forEach(t=>t.setAttribute('lengthAdjust','spacingAndGlyphs'));
</script>
</body>
</html>
